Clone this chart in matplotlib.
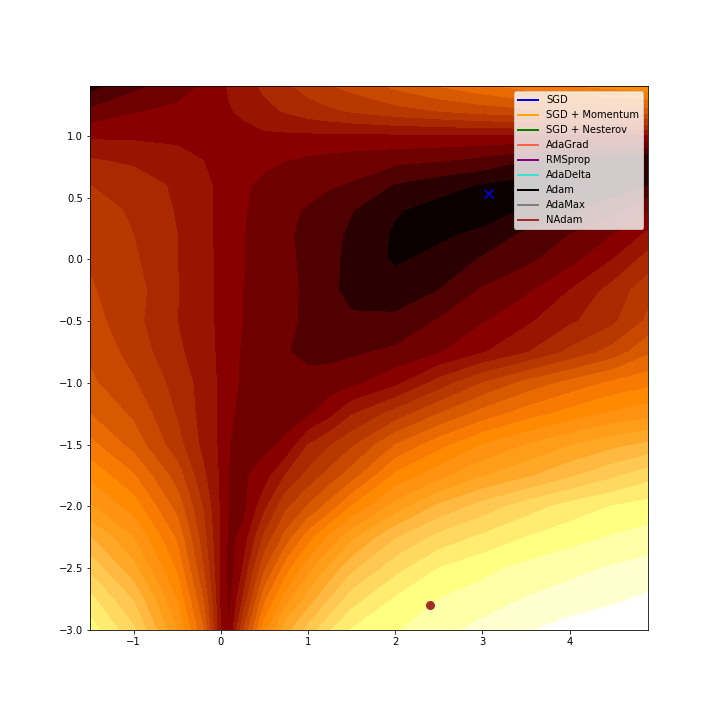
import numpy as np
import matplotlib
matplotlib.use("Agg")
import matplotlib.pyplot as plt

# surface: which colour band each grid point falls in
x_grid = [-1.5, -1, -0.5, -0.2, 0, 0.1, 0.25, 0.5, 0.75, 1, 1.25, 1.5, 2, 2.5, 3, 3.5, 4, 4.5, 4.9]
y_grid = [1.4, 1.2, 1, 0.8, 0.6, 0.4, 0.2, 0, -0.25, -0.5, -0.75, -1, -1.25, -1.5, -1.75, -2, -2.25, -2.5, -2.75, -3]
band_values = [
    [1.6, 2.7, 3.6, 4.1, 4.8, 5.1, 5.5, 6.2, 6.8, 7.4, 7.9, 8.3, 9.2, 10.0, 10.7, 11.4, 11.9, 12.3, 12.6],
    [3.2, 3.9, 4.2, 4.5, 4.8, 4.95, 5.1, 5.7, 6.1, 6.5, 6.8, 7.1, 7.6, 8.0, 8.4, 8.7, 9.0, 9.3, 9.5],
    [4.8, 4.8, 4.8, 4.8, 4.8, 4.8, 4.8, 4.8, 4.8, 4.8, 4.8, 4.8, 4.8, 4.8, 4.8, 4.8, 4.8, 4.8, 4.8],
    [6.1, 5.8, 5.3, 5.0, 4.8, 4.65, 4.4, 4.25, 4.0, 3.8, 3.65, 3.5, 3.25, 3.05, 2.7, 2.0, 1.5, 1.2, 0.95],
    [7.0, 6.6, 5.8, 5.2, 4.8, 4.5, 4.2, 3.7, 3.45, 3.3, 3.1, 2.9, 1.9, 1.4, 0.9, 0.5, 0.8, 1.3, 2.0],
    [7.3, 6.9, 5.9, 5.2, 4.8, 4.5, 4.1, 3.6, 3.2, 2.9, 2.45, 2.05, 1.1, 0.6, 0.35, 1.1, 1.8, 2.6, 3.8],
    [7.6, 7.0, 6.0, 5.2, 4.8, 4.5, 4.05, 3.5, 3.1, 2.8, 2.3, 1.8, 0.85, 0.8, 1.25, 2.2, 3.0, 4.0, 5.2],
    [7.9, 7.15, 6.0, 5.3, 4.8, 4.5, 4.05, 3.6, 3.2, 2.75, 2.25, 1.7, 0.85, 1.3, 2.1, 2.75, 3.6, 5.0, 6.4],
    [8.1, 7.4, 6.05, 5.3, 4.8, 4.45, 4.0, 3.6, 3.2, 2.85, 2.2, 1.7, 1.5, 2.0, 3.1, 3.8, 5.0, 6.4, 7.6],
    [8.4, 7.3, 6.0, 5.3, 4.8, 4.4, 4.0, 3.6, 3.2, 2.8, 2.4, 2.15, 2.2, 3.1, 3.9, 4.8, 5.8, 6.8, 8.2],
    [8.8, 7.6, 6.2, 5.4, 4.8, 4.3, 3.9, 3.4, 3.05, 2.75, 2.7, 2.85, 3.2, 3.9, 4.9, 5.9, 7.2, 8.4, 9.8],
    [9.2, 8.1, 6.6, 5.6, 4.8, 4.2, 3.9, 3.4, 3.2, 3.3, 3.45, 3.7, 4.7, 6.4, 8.0, 9.3, 10.3, 11.2, 11.7],
    [10.0, 8.8, 6.9, 5.6, 4.8, 4.1, 3.8, 3.5, 3.6, 3.8, 4.7, 5.9, 7.4, 9.0, 10.4, 11.5, 12.4, 13.2, 13.6],
    [11.3, 9.6, 7.4, 5.7, 4.8, 4.0, 3.9, 3.7, 4.2, 6.0, 6.9, 7.8, 10.0, 11.6, 13.0, 14.0, 14.9, 15.7, 16.2],
    [12.75, 11.1, 8.5, 6.2, 4.8, 3.9, 3.8, 4.5, 6.1, 7.3, 8.4, 9.5, 12.2, 13.6, 14.9, 15.8, 16.8, 17.8, 18.6],
    [14.1, 12.5, 9.6, 6.9, 4.8, 3.9, 3.6, 5.7, 7.8, 9.05, 10.4, 12.0, 14.4, 16.2, 17.4, 18.5, 19.4, 20.05, 20.4],
    [16.05, 14.0, 10.8, 7.4, 4.8, 3.7, 4.3, 7.2, 9.4, 11.5, 13.2, 14.7, 16.9, 18.3, 19.2, 20.0, 20.6, 21.1, 21.4],
    [17.7, 15.3, 11.8, 8.0, 4.8, 3.5, 5.0, 8.8, 11.5, 13.6, 15.2, 16.7, 18.6, 20.0, 20.7, 21.3, 21.7, 22.1, 22.4],
    [19.3, 16.9, 12.9, 9.0, 4.8, 3.7, 6.0, 10.7, 13.5, 15.4, 17.0, 18.5, 20.1, 21.0, 21.5, 22.05, 22.45, 22.85, 23.15],
    [20.5, 18.2, 14.0, 10.0, 4.8, 4.0, 7.7, 12.6, 15.6, 17.3, 18.9, 20.05, 20.9, 21.7, 22.3, 22.9, 23.4, 23.6, 23.8],
]

optimizers = ["SGD", "SGD + Momentum", "SGD + Nesterov", "AdaGrad", "RMSprop",
              "AdaDelta", "Adam", "AdaMax", "NAdam"]
optimizer_colors = ["blue", "orange", "green", "tomato", "purple",
                    "turquoise", "black", "grey", "brown"]

start_x, start_y = [2.4], [-2.8]
minimum_x, minimum_y = [3.07], [0.54]

band_colors = ["#0a0000", "#2a0000", "#500000", "#700000", "#880000", "#9a1500",
               "#ac2800", "#b83800", "#c84800", "#d85a00", "#e86a00", "#f87a00",
               "#ff8a00", "#ff9210", "#ff9c18", "#ffa828", "#ffb840", "#ffc850",
               "#ffd860", "#ffec70", "#ffff80", "#ffffa8", "#ffffd0", "#ffffff"]

fig = plt.figure(figsize=(10, 10), dpi=72)
ax = fig.add_axes([0.125, 0.125, 0.775, 0.755])
ax.contourf(x_grid, y_grid, np.array(band_values), levels=np.arange(25), colors=band_colors)

for name, color in zip(optimizers, optimizer_colors):
    ax.plot([], [], color=color, lw=2, label=name)

ax.plot(minimum_x, minimum_y, "x", color="blue", ms=9, mew=1.4)
ax.plot(start_x, start_y, "o", color="brown", ms=8)

ax.set_xlim(-1.5, 4.9)
ax.set_ylim(-3, 1.4)
ax.legend(loc="upper right")

fig.savefig("out.png", dpi=72)
